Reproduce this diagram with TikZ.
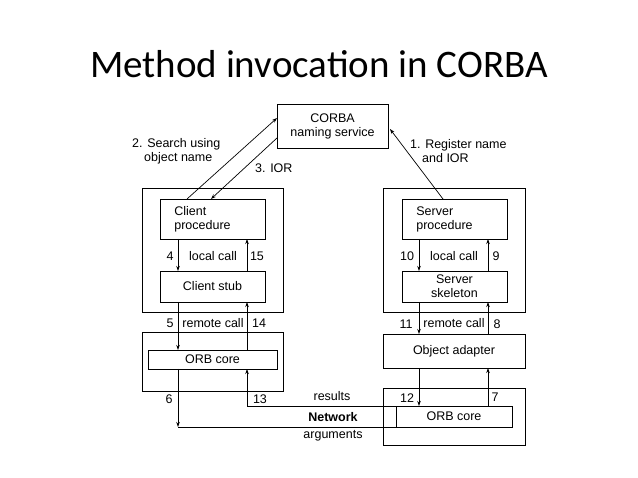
\documentclass[tikz,border=0pt]{standalone}
\usepackage{fontspec}
\setmainfont{Liberation Sans}
\newfontfamily\titlefont{Carlito}
\usetikzlibrary{arrows.meta}
\begin{document}
\begin{tikzpicture}[x=1pt,y=-1pt,
  box/.style={draw,line width=0.7pt,inner sep=0pt},
  lbl/.style={font=\fontsize{12.5}{14}\selectfont,inner sep=0pt},
  arr/.style={line width=0.7pt,-{Stealth[length=5pt,width=3.5pt]}},
  ln/.style={line width=0.7pt}]
\useasboundingbox (0,0) rectangle (638,478);
\node[font=\titlefont\fontsize{39}{42}\selectfont] (title) at (319,64) {Method invocation in CORBA};
% boxes
\node[box,minimum width=111pt,minimum height=44pt,align=center,lbl] (ns) at (332.5,126) {CORBA\\naming service};
\node[box,minimum width=141pt,minimum height=124pt] (cout) at (212.5,250) {};
\node[box,minimum width=105pt,minimum height=40pt,align=left,lbl] (cp) at (212.5,219) {Client\\procedure\hspace*{20pt}};
\node[box,minimum width=105pt,minimum height=31pt,lbl] (cs) at (212.5,286.5) {Client stub};
\node[box,minimum width=141pt,minimum height=59pt] (coout) at (212.5,361.5) {};
\node[box,minimum width=129pt,minimum height=19pt,lbl] (corb) at (212.5,359.5) {ORB core};
\node[box,minimum width=142pt,minimum height=124pt] (sout) at (454,250) {};
\node[box,minimum width=105pt,minimum height=40pt,align=left,lbl] (sp) at (454.5,219) {Server\\procedure\hspace*{20pt}};
\node[box,minimum width=105pt,minimum height=31pt,align=center,lbl] (sk) at (454.5,286.5) {Server\\skeleton};
\node[box,minimum width=142pt,minimum height=34pt,lbl] (oa) at (454,351) {Object adapter};
\node[box,minimum width=142pt,minimum height=57pt] (soout) at (454,416.5) {};
\node[box,minimum width=116pt,minimum height=21pt,lbl] (sorb) at (454,416.5) {ORB core};
% coordinates
\coordinate (c1) at (187,199);
\coordinate (n1) at (277,118);
\coordinate (n2) at (277,138);
\coordinate (c2) at (211,199);
\coordinate (s1) at (443,199);
\coordinate (n3) at (390,129);
\draw[arr] (c1) -- (n1);
\draw[arr] (n2) -- (c2);
\draw[arr] (s1) -- (n3);
% client vertical
\draw[arr] (178,239) -- (178,271);
\draw[arr] (247,271) -- (247,239);
\draw[arr] (178,302) -- (178,350);
\draw[arr] (247,350) -- (247,302);
\coordinate (a1) at (178,369);
\coordinate (a2) at (178,427);
\coordinate (r1) at (247,406);
\coordinate (r2) at (247,369);
\draw[arr] (a1) -- (a2);
\draw[ln] (a2) -- (396,427);
\draw[arr] (396,406) -- (r1) -- (r2);
% server vertical
\draw[arr] (419,239) -- (419,271);
\draw[arr] (488,271) -- (488,239);
\draw[arr] (419,302) -- (419,334);
\draw[arr] (488,334) -- (488,302);
\draw[arr] (419,368) -- (419,406);
\draw[arr] (488,406) -- (488,368);
% labels
\node[lbl,align=left,anchor=west] (t2) at (132,151) {2. Search using\\\hspace*{12pt}object name};
\node[lbl,anchor=west] (t3) at (255,168) {3. IOR};
\node[lbl,align=left,anchor=west] (t1) at (410,151) {1. Register name\\\hspace*{12pt}and IOR};
\node[lbl] (l4) at (170,256) {4};
\node[lbl] (lc1) at (213,256) {local call};
\node[lbl] (l15) at (257,256) {15};
\node[lbl] (l5) at (170,323) {5};
\node[lbl] (rc1) at (213,323) {remote call};
\node[lbl] (l14) at (259,323) {14};
\node[lbl] (l6) at (169,399) {6};
\node[lbl] (l13) at (260,399) {13};
\node[lbl] (res) at (332,396) {results};
\node[lbl,font=\fontsize{12.5}{14}\selectfont\bfseries] (net) at (333,417) {Network};
\node[lbl] (argl) at (333,436) {arguments};
\node[lbl] (l10) at (407,256) {10};
\node[lbl] (lc2) at (454,256) {local call};
\node[lbl] (l9) at (496,256) {9};
\node[lbl] (l11) at (406,324) {11};
\node[lbl] (rc2) at (454,323) {remote call};
\node[lbl] (l8) at (497,324) {8};
\node[lbl] (l12) at (407,398) {12};
\node[lbl] (l7) at (495,397) {7};
\end{tikzpicture}
\end{document}
